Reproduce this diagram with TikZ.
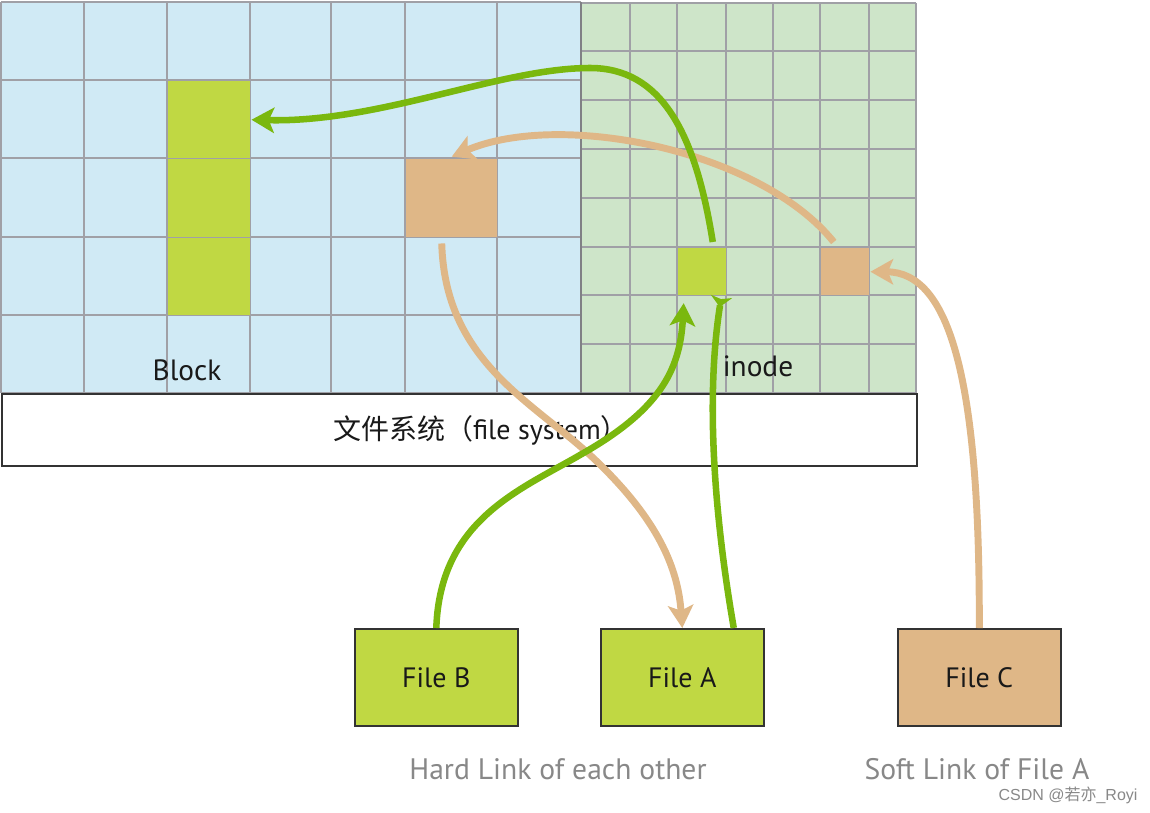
\documentclass[tikz,border=0pt]{standalone}
\usepackage{fontspec}
\setmainfont{PT Sans}
\newfontfamily\cjkfont{Noto Sans CJK SC}
\newfontfamily\markfont{Liberation Sans}
\usetikzlibrary{arrows.meta}

\definecolor{blockblue}{RGB}{208,234,245}
\definecolor{inodegreen}{RGB}{206,229,201}
\definecolor{gridgray}{RGB}{160,160,166}
\definecolor{limefill}{RGB}{192,216,67}
\definecolor{tanfill}{RGB}{223,183,135}
\definecolor{linkgreen}{RGB}{122,184,14}
\definecolor{captiongray}{RGB}{136,136,136}

\begin{document}
\begin{tikzpicture}[x=0.75pt, y=-0.75pt,
        every node/.style = {inner sep=0pt, text=black!90, font=\fontsize{21pt}{25pt}\selectfont},
        cell/.style = {anchor=north west, draw=gridgray, line width=1.1pt},
        area/.style = {font=\fontsize{22pt}{26pt}\selectfont},
        file/.style = {anchor=north west, draw=black!80, line width=1.2pt,
          fill=limefill, minimum width=122.25pt, minimum height=72.75pt},
        hardlink/.style = {draw=linkgreen, line width=4.9pt,
          -{Stealth[length=17pt, width=19pt, inset=4pt]}},
        softlink/.style = {hardlink, draw=tanfill, line width=5.2pt},
        caption/.style = {text=captiongray, font=\fontsize{22.2pt}{26pt}\selectfont}]
      \useasboundingbox (0,0) rectangle (1150,813);
      % block area and inode area
      \fill[blockblue] (1,2) rectangle (581,393);
      \fill[inodegreen] (581,3) rectangle (916,393);
      \foreach \x in {1,84,167,250,331,405,497}
        \draw[gridgray, line width=1.1pt] (\x,2) -- (\x,393);
      \foreach \y in {2,80,158,237,315,393}
        \draw[gridgray, line width=1.1pt] (1,\y) -- (581,\y);
      \foreach \x in {630,677,726,773,820,869,916}
        \draw[gridgray, line width=1.1pt] (\x,3) -- (\x,393);
      \foreach \y in {3,51,100,149,198,247,295,344,393}
        \draw[gridgray, line width=1.1pt] (582,\y) -- (916,\y);
      \draw[gridgray!80!black, line width=1.8pt] (581,2) -- (581,393);

      \node[cell, fill=limefill, minimum width=62.25pt, minimum height=58.5pt] (blk1) at (167,80) {};
      \node[cell, fill=limefill, minimum width=62.25pt, minimum height=59.25pt] (blk2) at (167,158) {};
      \node[cell, fill=limefill, minimum width=62.25pt, minimum height=58.5pt] (blk3) at (167,237) {};
      \node[cell, fill=tanfill, minimum width=69pt, minimum height=59.25pt] (tanblk) at (405,158) {};
      \node[cell, fill=limefill, minimum width=36.75pt, minimum height=36pt] (greeninode) at (677,247) {};
      \node[cell, fill=tanfill, minimum width=36.75pt, minimum height=36pt] (taninode) at (820,247) {};

      \node[area] (blocklabel) at (187,370) {Block};
      \node[area] (inodelabel) at (758,366) {inode};

      \node[anchor=north west, draw=black!80, line width=1.2pt, fill=white,
        minimum width=686.25pt, minimum height=54pt] (fs) at (1,393) {};
      \node (fslabel) at (481,430) {{\cjkfont 文件系统（}file system{\cjkfont ）}};

      % the files
      \node[file] (fileB) at (354,628) {File B};
      \node[file] (fileA) at (600,628) {File A};
      \node[file, fill=tanfill] (fileC) at (897,628) {File C};
      \node[caption] (hardcap) at (558,769) {Hard Link of each other};
      \node[caption] (softcap) at (977,769) {Soft Link of File A};
      \node[text=captiongray, font=\markfont\fontsize{12pt}{14pt}\selectfont] (mark) at (1068,795)
        {CSDN @{\cjkfont 若亦}\_Royi};

      % links
      \draw[softlink] ([xshift=-8.6pt,yshift=3.75pt]taninode.north)
        .. controls (760,150) and (560,110) .. ([yshift=1pt]tanblk.north);
      \draw[softlink] ([xshift=-7.5pt,yshift=-3.75pt]tanblk.south)
        .. controls (445,360) and (530,400) .. (590,455)
        .. controls (660,520) and (678,570) .. (fileA.north);
      \draw[softlink] (fileC.north) .. controls (980,380) and (950,272) .. (taninode.east);
      \draw[hardlink] ([xshift=7.9pt,yshift=3.75pt]greeninode.north)
        .. controls (695,130) and (660,68) .. (590,68)
        .. controls (500,68) and (380,123) .. (blk1.east);
      \draw[hardlink] (fileB.north) .. controls (440,520) and (520,490) .. (580,455)
        .. controls (660,410) and (680,370) .. ([xshift=-13.9pt,yshift=-5pt]greeninode.south);
      \draw[hardlink, -{Stealth[reversed, length=8pt, width=16pt, inset=2pt]}]
        ([xshift=38.6pt]fileA.north) .. controls (715,520) and (705,400)
        .. ([xshift=14.4pt]greeninode.south);
\end{tikzpicture}
\end{document}
